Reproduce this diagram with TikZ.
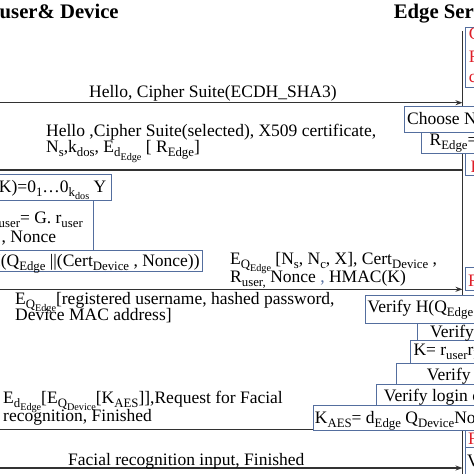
\documentclass[tikz,border=0pt]{standalone}
\usepackage{fontspec}
\setmainfont{Liberation Serif}
\usetikzlibrary{arrows.meta}
\newcommand{\sbs}[1]{\raisebox{-4pt}{\fontsize{12.8}{13}\selectfont #1}}
\newcommand{\ssbs}[1]{\raisebox{-3.5pt}{\fontsize{10.2}{10}\selectfont #1}}
\definecolor{boxblue}{RGB}{84,110,158}
\definecolor{msgred}{RGB}{222,30,40}
\definecolor{linegray}{RGB}{50,50,50}
\tikzset{
  txt/.style={font=\fontsize{17.5}{16}\selectfont, inner sep=0pt, anchor=base west, text=black},
  redtxt/.style={txt, text=msgred},
  hdr/.style={font=\fontsize{20.7}{22}\selectfont\bfseries, inner sep=0pt, anchor=base west},
  box/.style={draw=boxblue, line width=0.9pt, fill=white, inner sep=0pt, anchor=north west},
  msg/.style={draw=linegray, line width=1.4pt},
  tip/.style={-{Stealth[length=7pt,width=5pt]}},
  life/.style={draw=linegray, line width=1.1pt},
}
\begin{document}
\begin{tikzpicture}[x=1pt,y=-1pt]
\useasboundingbox (0,0) rectangle (474,474);
\clip (0,0) rectangle (474,474);

% headers
\node[hdr] (hu) at (-0.5,18.3) {user\& Device};
\node[hdr] (he) at (393.7,18.3) {Edge Ser};

% lifeline
\coordinate (lt) at (462.5,31);
\coordinate (lb) at (462.5,480);
\draw[life] (lt) -- (lb);

% message lines
\coordinate (a1l) at (-5,102.7);  \coordinate (a1r) at (462.5,102.7);
\coordinate (a2l) at (-15,170);   \coordinate (a2r) at (462.5,170);
\coordinate (a3l) at (-5,289.3);  \coordinate (a3r) at (462.5,289.3);
\coordinate (a5l) at (-15,429.5); \coordinate (a5r) at (462.5,429.5);
\coordinate (a6l) at (-5,468);    \coordinate (a6r) at (462.5,468);
\draw[msg,tip] (a1l) -- (a1r);
\draw[msg,tip] (a2r) -- (a2l);
\draw[msg,tip] (a3l) -- (a3r);
\draw[msg,tip] (a5r) -- (a5l);
\draw[msg,tip] (a6l) -- (a6r);

% left boxes
\node[box, minimum width=121pt, minimum height=26pt] (ba) at (-10,174) {};
\node[box, minimum width=103pt, minimum height=50pt] (bb) at (-10,200) {};
\node[box, minimum width=212pt, minimum height=21pt] (bc) at (-10,250) {};

% right boxes
\node[box, minimum width=30pt, minimum height=60pt] (r1) at (465,27) {};
\node[box, minimum width=90pt, minimum height=26pt] (r2) at (404,106) {};
\node[box, minimum width=70pt, minimum height=21pt] (r3) at (421,132) {};
\node[box, minimum width=30pt, minimum height=22pt] (r4) at (465,153) {};
\node[box, minimum width=30pt, minimum height=23pt] (r5) at (465,267) {};
\node[box, minimum width=130pt, minimum height=28pt] (r6) at (365,295) {};
\node[box, minimum width=80pt, minimum height=17pt] (r7) at (417,323) {};
\node[box, minimum width=80pt, minimum height=23pt] (r8) at (410,340) {};
\node[box, minimum width=90pt, minimum height=21pt] (r9) at (396,363) {};
\node[box, minimum width=110pt, minimum height=21pt] (r10) at (376,384) {};
\node[box, minimum width=180pt, minimum height=25pt] (r11) at (313,405) {};
\node[box, minimum width=30pt, minimum height=17pt] (r12) at (465,430) {};
\node[box, minimum width=30pt, minimum height=40pt] (r13) at (465,447) {};

% box texts (left)
\node[txt, anchor=base east] (ta) at (106.5,192) {H(K)=0\sbs{1}…0\sbs{k\ssbs{dos}} Y};
\node[txt, anchor=base east] (tb1) at (83,223) {R\sbs{user}= G. r\sbs{user}};
\node[txt] (tb2) at (1.5,242) {, Nonce};
\node[txt, anchor=base east] (tc) at (199.8,266) {H(Q\sbs{Edge} ||(Cert\sbs{Device} , Nonce))};

% box texts (right)
\node[redtxt] (t1a) at (468.7,39.5) {C};
\node[redtxt] (t1b) at (468.7,62) {F};
\node[redtxt] (t1c) at (468.7,82) {c};
\node[txt] (t2) at (407,124) {Choose N};
\node[txt] (t3) at (429.5,145) {R\sbs{Edge}=};
\node[redtxt] (t4) at (470.5,172) {F};
\node[redtxt] (t5) at (468,286) {F};
\node[txt] (t6) at (367.5,312) {Verify H(Q\sbs{Edge}};
\node[txt] (t7) at (430,337.5) {Verify};
\node[txt] (t8) at (413.3,355) {K= r\sbs{user}r\sbs{Edge}};
\node[txt] (t9) at (426.7,380.5) {Verify};
\node[txt] (t10) at (383.7,401.5) {Verify login c};
\node[txt] (t11) at (314.7,423) {K\sbs{AES}= d\sbs{Edge} Q\sbs{Device}Non};
\node[redtxt] (t12) at (468,444) {F};
\node[txt] (t13) at (467,466) {V};

% message texts
\node[txt] (m1) at (89,97) {Hello, Cipher Suite(ECDH\_SHA3)};
\node[txt] (m2a) at (46,136) {Hello ,Cipher Suite(selected), X509 certificate,};
\node[txt] (m2b) at (46,152.5) {N\sbs{s},k\sbs{dos}, E\sbs{d\ssbs{Edge}} [ R\sbs{Edge}]};
\node[txt] (m3a) at (230,264) {E\sbs{Q\ssbs{Edge}} [N\sbs{s}, N\sbs{c}, X], Cert\sbs{Device} ,};
\node[txt] (m3b) at (230,282) {R\sbs{user,} Nonce {\color{boxblue}, }HMAC(K)};
\node[txt] (m4a) at (15,304) {E\sbs{Q\ssbs{Edge}}[registered username, hashed password,};
\node[txt] (m4b) at (15,320) {Device MAC address]};
\node[txt] (m5a) at (3,403) {E\sbs{d\ssbs{Edge}}[E\sbs{Q\ssbs{Device}}[K\sbs{AES}]],Request for Facial};
\node[txt] (m5b) at (3,421.7) {recognition, Finished};
\node[txt] (m6) at (68,465) {Facial recognition input, Finished};
\end{tikzpicture}
\end{document}
